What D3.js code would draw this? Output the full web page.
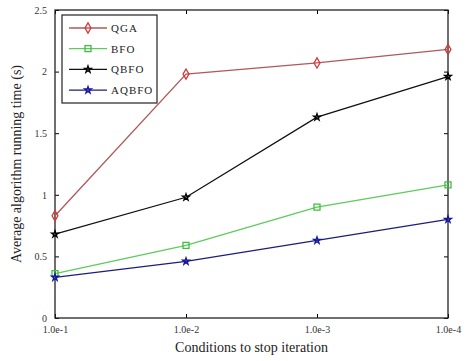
<!DOCTYPE html>
<html>
<head>
<meta charset="utf-8">
<script src="https://cdn.jsdelivr.net/npm/d3@7"></script>
<style>
  body { margin: 0; background: #fff; }
  svg { display: block; }
  text { font-family: "Liberation Serif", "DejaVu Serif", serif; }
</style>
</head>
<body>
<div id="chart"></div>
<script>
// data
const conditions = ["1.0e-1", "1.0e-2", "1.0e-3", "1.0e-4"];
const qga   = [0.83, 1.98, 2.07, 2.18];
const bfo   = [0.36, 0.59, 0.90, 1.08];
const qbfo  = [0.68, 0.98, 1.63, 1.96];
const aqbfo = [0.33, 0.46, 0.63, 0.80];
const yTicks = [0, 0.5, 1, 1.5, 2, 2.5];

const series = [
  {name: "QGA",   values: qga,   line: "#b0585c", mark: "#d03a3a", shape: "diamond"},
  {name: "BFO",   values: bfo,   line: "#5ccc5c", mark: "#3fbf3f", shape: "square"},
  {name: "QBFO",  values: qbfo,  line: "#111111", mark: "#000000", shape: "star"},
  {name: "AQBFO", values: aqbfo, line: "#1e1e7a", mark: "#1515a0", shape: "hex"}
];

const width = 474, height = 361;
const margin = {top: 10, right: 26, bottom: 43, left: 55};

const x = d3.scalePoint()
    .domain(conditions)
    .range([margin.left, width - margin.right]);

const y = d3.scaleLinear()
    .domain([0, 2.5])
    .range([height - margin.bottom, margin.top]);

const svg = d3.select("#chart")
  .append("svg")
    .attr("width", width)
    .attr("height", height);

// axes, ticks pointing inwards like matlab
svg.append("g")
    .attr("transform", `translate(0,${height - margin.bottom})`)
    .call(d3.axisBottom(x).tickSizeInner(-4).tickSizeOuter(0).tickPadding(8))
    .call(g => g.select(".domain").remove())
    .call(g => g.selectAll("text").attr("font-size", 10).attr("fill", "#333"));

svg.append("g")
    .attr("transform", `translate(0,${margin.top})`)
    .call(d3.axisTop(x).tickSizeInner(-4).tickSizeOuter(0).tickFormat(""))
    .call(g => g.select(".domain").remove());

svg.append("g")
    .attr("transform", `translate(${margin.left},0)`)
    .call(d3.axisLeft(y).tickValues(yTicks).tickFormat(d3.format("")).tickSizeInner(-4).tickSizeOuter(0).tickPadding(8))
    .call(g => g.select(".domain").remove())
    .call(g => g.selectAll("text").attr("font-size", 10).attr("fill", "#333"));

svg.append("g")
    .attr("transform", `translate(${width - margin.right},0)`)
    .call(d3.axisRight(y).tickValues(yTicks).tickSizeInner(-4).tickSizeOuter(0).tickFormat(""))
    .call(g => g.select(".domain").remove());

// frame
svg.append("rect")
    .attr("x", margin.left)
    .attr("y", margin.top)
    .attr("width", width - margin.left - margin.right)
    .attr("height", height - margin.top - margin.bottom)
    .attr("fill", "none")
    .attr("stroke", "#222")
    .attr("stroke-width", 1.3);

// marker symbols
const symbols = {
  diamond: d3.symbol(d3.symbolDiamond, 30),
  square: d3.symbol(d3.symbolSquare, 36),
  star: d3.symbol(d3.symbolStar, 14),
  hex: d3.symbol(d3.symbolStar, 14)
};

const line = d3.line()
    .x((d, i) => x(conditions[i]))
    .y(d => y(d));

series.forEach(s => {
  svg.append("path")
      .datum(s.values)
      .attr("fill", "none")
      .attr("stroke", s.line)
      .attr("stroke-width", 1.3)
      .attr("d", line);

  svg.append("g")
    .selectAll("path")
    .data(s.values)
    .join("path")
      .attr("transform", (d, i) => `translate(${x(conditions[i])},${y(d)})`)
      .attr("d", symbols[s.shape]())
      .attr("fill", "none")
      .attr("stroke", s.mark)
      .attr("stroke-width", 1.3);
});

// legend
const legend = svg.append("g").attr("transform", "translate(62,15)");
legend.append("rect")
    .attr("width", 95)
    .attr("height", 88)
    .attr("fill", "#fff")
    .attr("stroke", "#222")
    .attr("stroke-width", 1.2);

series.forEach((s, i) => {
  const gy = 13 + i * 20.7;
  legend.append("line")
      .attr("x1", 7).attr("x2", 45)
      .attr("y1", gy).attr("y2", gy)
      .attr("stroke", s.line)
      .attr("stroke-width", 1.3);
  legend.append("path")
      .attr("transform", `translate(26,${gy})`)
      .attr("d", symbols[s.shape]())
      .attr("fill", "none")
      .attr("stroke", s.mark)
      .attr("stroke-width", 1.3);
  legend.append("text")
      .attr("x", 49)
      .attr("y", gy + 4)
      .attr("font-size", 11)
      .attr("letter-spacing", 1)
      .attr("fill", "#222")
      .text(s.name);
});

// axis titles
svg.append("text")
    .attr("x", (margin.left + width - margin.right) / 2)
    .attr("y", 352)
    .attr("text-anchor", "middle")
    .attr("font-size", 14)
    .attr("fill", "#222")
    .text("Conditions to stop iteration");

svg.append("text")
    .attr("transform", `translate(21,${(margin.top + height - margin.bottom) / 2}) rotate(-90)`)
    .attr("text-anchor", "middle")
    .attr("font-size", 14)
    .attr("fill", "#222")
    .text("Average algorithm running time (s)");
</script>
</body>
</html>
